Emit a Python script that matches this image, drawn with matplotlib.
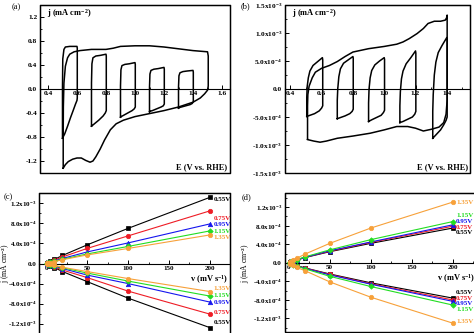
import matplotlib
matplotlib.use("Agg")
import matplotlib.pyplot as plt
from matplotlib.patches import Rectangle
from matplotlib.ticker import MultipleLocator

plt.rcParams.update({
    "font.family": ["Liberation Serif", "DejaVu Serif"],
    "font.weight": "bold",
    "mathtext.fontset": "custom",
    "mathtext.rm": "Liberation Serif:bold",
    "mathtext.it": "Liberation Serif:bold:italic",
    "mathtext.bf": "Liberation Serif:bold",
    "mathtext.default": "rm",
})

# ---------------- Panel (a): CV in mA cm-2 ----------------
a_big_E = [0.505, 0.505, 0.506, 0.51, 0.52, 0.535, 0.55, 0.58, 0.62, 0.70, 0.80, 0.85, 0.90, 1.00, 1.10,
           1.20, 1.30, 1.40, 1.50, 1.505, 1.505, 1.50, 1.48, 1.45, 1.40, 1.30, 1.20, 1.10, 1.00, 0.92,
           0.87, 0.83, 0.79, 0.76, 0.73, 0.71, 0.69, 0.66, 0.63, 0.60, 0.57, 0.54, 0.52, 0.505]
a_big_j = [-1.32, -0.8, -0.3, 0.1, 0.38, 0.52, 0.58, 0.62, 0.64, 0.66, 0.66, 0.68, 0.71, 0.72, 0.72,
           0.70, 0.67, 0.64, 0.62, 0.55, 0.05, -0.02, -0.08, -0.15, -0.22, -0.30, -0.36, -0.41, -0.46, -0.52,
           -0.58, -0.68, -0.85, -1.0, -1.13, -1.20, -1.22, -1.19, -1.15, -1.15, -1.17, -1.21, -1.26, -1.32]

a_loop1_E = [0.50, 0.50, 0.502, 0.51, 0.52, 0.55, 0.60, 0.602, 0.602, 0.60, 0.59, 0.575, 0.555, 0.535, 0.515, 0.50]
a_loop1_j = [-0.82, 0.0, 0.5, 0.66, 0.70, 0.71, 0.71, 0.68, -0.15, -0.19, -0.25, -0.35, -0.48, -0.62, -0.75, -0.82]

a_loop2_E = [0.70, 0.70, 0.703, 0.71, 0.73, 0.76, 0.80, 0.802, 0.802, 0.795, 0.78, 0.75, 0.72, 0.705, 0.70]
a_loop2_j = [-0.62, 0.1, 0.42, 0.52, 0.55, 0.56, 0.58, 0.55, -0.36, -0.40, -0.45, -0.52, -0.58, -0.61, -0.62]

a_loop3_E = [0.90, 0.90, 0.903, 0.91, 0.93, 0.96, 1.00, 1.002, 1.002, 0.995, 0.98, 0.95, 0.92, 0.905, 0.90]
a_loop3_j = [-0.47, 0.05, 0.32, 0.39, 0.41, 0.42, 0.44, 0.41, -0.30, -0.33, -0.36, -0.40, -0.44, -0.46, -0.47]

a_loop4_E = [1.10, 1.10, 1.103, 1.11, 1.13, 1.16, 1.20, 1.202, 1.202, 1.195, 1.18, 1.15, 1.12, 1.105, 1.10]
a_loop4_j = [-0.38, 0.03, 0.25, 0.31, 0.33, 0.34, 0.36, 0.33, -0.25, -0.28, -0.30, -0.33, -0.36, -0.37, -0.38]

a_loop5_E = [1.30, 1.30, 1.303, 1.31, 1.33, 1.36, 1.40, 1.402, 1.402, 1.395, 1.38, 1.35, 1.32, 1.305, 1.30]
a_loop5_j = [-0.32, 0.03, 0.22, 0.27, 0.29, 0.30, 0.31, 0.28, -0.21, -0.24, -0.26, -0.28, -0.30, -0.31, -0.32]

a_xticks = [0.4, 0.6, 0.8, 1.0, 1.2, 1.4, 1.6]
a_xlabels = ["0.4", "0.6", "0.8", "1.0", "1.2", "1.4", "1.6"]
a_yticks = [-1.2, -0.8, -0.4, 0.0, 0.4, 0.8, 1.2]
a_ylabels = ["-1.2", "-0.8", "-0.4", "0.0", "0.4", "0.8", "1.2"]

# ---------------- Panel (b): CV (x1e-4) ----------------
b_big_E = [0.51, 0.51, 0.512, 0.52, 0.54, 0.56, 0.60, 0.65, 0.70, 0.75, 0.80, 0.90, 1.00, 1.08, 1.12,
           1.16, 1.21, 1.25, 1.28, 1.32, 1.36, 1.39, 1.40, 1.402, 1.402, 1.395, 1.38, 1.35, 1.30, 1.25,
           1.20, 1.15, 1.08, 1.00, 0.91, 0.80, 0.70, 0.63, 0.59, 0.55, 0.52, 0.51]
b_big_j = [-9.0, -3.0, -1.0, 0.5, 2.0, 3.0, 3.7, 4.2, 4.9, 5.8, 6.6, 7.2, 7.6, 8.0, 8.4,
           9.0, 9.9, 10.8, 11.7, 12.1, 12.1, 12.3, 12.8, 13.2, -2.0, -4.5, -6.0, -6.8, -7.2, -7.5,
           -7.0, -6.7, -6.7, -7.3, -7.9, -8.4, -8.8, -9.3, -9.5, -9.3, -9.1, -9.0]

b_loop1_E = [0.505, 0.505, 0.508, 0.515, 0.525, 0.545, 0.575, 0.605, 0.607, 0.607, 0.60, 0.585, 0.555, 0.525, 0.505]
b_loop1_j = [-4.9, -1.5, 0.5, 2.0, 3.2, 4.2, 4.9, 5.6, 5.2, -3.0, -3.4, -3.9, -4.4, -4.7, -4.9]

b_loop2_E = [0.70, 0.70, 0.703, 0.71, 0.72, 0.74, 0.77, 0.80, 0.802, 0.802, 0.795, 0.78, 0.75, 0.72, 0.70]
b_loop2_j = [-5.3, -2.0, 0.0, 2.2, 3.6, 4.6, 5.2, 5.8, 5.5, -3.6, -4.0, -4.4, -4.8, -5.1, -5.3]

b_loop3_E = [0.90, 0.90, 0.903, 0.91, 0.92, 0.94, 0.97, 1.00, 1.002, 1.002, 0.995, 0.98, 0.95, 0.92, 0.90]
b_loop3_j = [-5.8, -2.5, 0.0, 2.0, 3.3, 4.3, 5.0, 5.6, 5.3, -3.8, -4.2, -4.7, -5.1, -5.5, -5.8]

b_loop4_E = [1.10, 1.10, 1.103, 1.11, 1.12, 1.14, 1.17, 1.20, 1.202, 1.202, 1.195, 1.18, 1.15, 1.12, 1.10]
b_loop4_j = [-6.0, -3.0, -0.5, 1.8, 3.2, 4.5, 5.6, 6.8, 6.4, -4.0, -4.5, -5.0, -5.4, -5.8, -6.0]

b_loop5_E = [1.31, 1.31, 1.313, 1.32, 1.33, 1.345, 1.37, 1.40, 1.402, 1.402, 1.395, 1.38, 1.36, 1.33, 1.31]
b_loop5_j = [-8.8, -4.0, -1.0, 2.5, 4.8, 6.5, 7.8, 9.2, 8.8, -5.0, -5.6, -6.4, -7.3, -8.2, -8.8]

b_xticks = [0.4, 0.6, 0.8, 1.0, 1.2, 1.4]
b_xlabels = ["0.4", "0.6", "0.8", "1.0", "1.2", "1.4"]
b_yticks = [-1.5e-3, -1.0e-3, -5.0e-4, 0.0, 5.0e-4, 1.0e-3, 1.5e-3]
b_ylabels = ["-1.5x10$^{-3}$", "-1.0x10$^{-3}$", "-5.0x10$^{-4}$", "0.0",
             "5.0x10$^{-4}$", "1.0x10$^{-3}$", "1.5x10$^{-3}$"]

# ---------------- Panels (c), (d): j vs scan rate (x1e-4) ----------------
scan_rate = [1, 2, 5, 10, 20, 50, 100, 200]
potentials = ["0.55V", "0.75V", "0.95V", "1.15V", "1.35V"]
colors = ["#000000", "#ee1c25", "#1515ee", "#22dd22", "#f7a13a"]
markers = ["s", "o", "^", "D", "o"]

c_pos = {
    "0.55V": [0.08, 0.15, 0.4, 0.8, 1.6, 3.7, 7.0, 13.2],
    "0.75V": [0.06, 0.12, 0.32, 0.65, 1.3, 3.0, 5.5, 10.5],
    "0.95V": [0.05, 0.10, 0.25, 0.5, 1.0, 2.3, 4.1, 7.9],
    "1.15V": [0.04, 0.08, 0.21, 0.42, 0.85, 1.9, 3.4, 6.5],
    "1.35V": [0.04, 0.07, 0.18, 0.36, 0.75, 1.7, 3.0, 5.7],
}
c_neg = {
    "0.55V": [-0.08, -0.15, -0.4, -0.8, -1.6, -3.6, -6.9, -12.8],
    "0.75V": [-0.06, -0.12, -0.32, -0.65, -1.3, -2.8, -5.5, -10.1],
    "0.95V": [-0.05, -0.10, -0.25, -0.5, -1.0, -2.3, -4.0, -7.7],
    "1.15V": [-0.04, -0.08, -0.21, -0.42, -0.85, -1.9, -3.5, -6.5],
    "1.35V": [-0.04, -0.07, -0.18, -0.36, -0.75, -1.6, -3.0, -5.6],
}
c_label_pos_y = {"0.55V": 12.7, "0.75V": 8.9, "0.95V": 7.7, "1.15V": 6.3, "1.35V": 5.2}
c_label_neg_y = {"0.55V": -11.7, "0.75V": -9.7, "0.95V": -7.7, "1.15V": -6.3, "1.35V": -5.0}

d_pos = {
    "0.55V": [0.07, 0.13, 0.33, 0.62, 1.15, 2.4, 4.2, 7.5],
    "0.75V": [0.07, 0.14, 0.34, 0.63, 1.2, 2.5, 4.4, 7.9],
    "0.95V": [0.07, 0.14, 0.35, 0.65, 1.2, 2.6, 4.5, 8.2],
    "1.15V": [0.08, 0.15, 0.37, 0.7, 1.3, 2.8, 5.0, 8.9],
    "1.35V": [0.12, 0.25, 0.55, 1.0, 1.9, 4.2, 7.5, 13.1],
}
d_neg = {
    "0.55V": [-0.07, -0.13, -0.33, -0.62, -1.1, -2.4, -4.3, -7.6],
    "0.75V": [-0.07, -0.14, -0.34, -0.63, -1.15, -2.5, -4.5, -8.0],
    "0.95V": [-0.07, -0.14, -0.35, -0.65, -1.2, -2.6, -4.6, -8.3],
    "1.15V": [-0.08, -0.15, -0.37, -0.7, -1.3, -2.9, -5.1, -9.1],
    "1.35V": [-0.12, -0.25, -0.55, -1.0, -1.7, -4.1, -7.4, -13.0],
}
d_label_pos_y = {"0.55V": 6.55, "0.75V": 7.7, "0.95V": 8.85, "1.15V": 10.3, "1.35V": 13.1}
d_label_neg_y = {"0.55V": -6.5, "0.75V": -7.6, "0.95V": -8.7, "1.15V": -10.0, "1.35V": -12.6}

cd_xticks = [0, 50, 100, 150, 200]
cd_xlabels = ["0", "50", "100", "150", "200"]
cd_yticks = [-1.2e-3, -8e-4, -4e-4, 0.0, 4e-4, 8e-4, 1.2e-3]
cd_ylabels = ["-1.2x10$^{-3}$", "-8.0x10$^{-4}$", "-4.0x10$^{-4}$", "0.0",
              "4.0x10$^{-4}$", "8.0x10$^{-4}$", "1.2x10$^{-3}$"]

SCALE = 1e-4
TICK_FS = 5.3
TXT_FS = 6

fig = plt.figure(figsize=(4.74, 3.33), dpi=100)
W, H = 474, 333


def add_ax(x0, y0, x1, y1):
    return fig.add_axes([x0 / W, 1 - y1 / H, (x1 - x0) / W, (y1 - y0) / H])


def style(ax, xlim, ylim, xt, xl, yt, yl, xminor, yminor, tick_fs=TICK_FS):
    ax.set_xlim(*xlim)
    ax.set_ylim(*ylim)
    ax.spines["bottom"].set_position(("data", 0))
    for s in ax.spines.values():
        s.set_linewidth(0.8)
    ax.add_patch(Rectangle((0, 0), 1, 1, transform=ax.transAxes, fill=False,
                           lw=1.0, ec="black", clip_on=False, zorder=5))
    ax.set_xticks(xt, xl)
    ax.set_yticks(yt, yl)
    ax.xaxis.set_minor_locator(MultipleLocator(xminor))
    ax.yaxis.set_minor_locator(MultipleLocator(yminor))
    ax.tick_params(which="major", direction="in", length=3, width=0.7,
                   labelsize=tick_fs, pad=2)
    ax.tick_params(which="minor", direction="in", length=1.6, width=0.6)
    ax.tick_params(axis="x", which="major", pad=1.5)
    for lab in ax.get_xticklabels() + ax.get_yticklabels():
        lab.set_fontweight("bold")


# Panel (a)
axa = add_ax(40, 5, 230, 173)
style(axa, (0.345, 1.655), (-1.4, 1.4), a_xticks, a_xlabels, a_yticks, a_ylabels, 0.1, 0.2)
for E, j in [(a_big_E, a_big_j), (a_loop1_E, a_loop1_j), (a_loop2_E, a_loop2_j),
             (a_loop3_E, a_loop3_j), (a_loop4_E, a_loop4_j), (a_loop5_E, a_loop5_j)]:
    axa.plot(E, j, color="black", lw=1.1, solid_joinstyle="round")
axa.text(0.035, 0.95, "j (mA cm$^{-2}$)", transform=axa.transAxes, fontsize=TXT_FS,
         ha="left", va="center")
axa.text(0.985, 0.035, "E (V vs. RHE)", transform=axa.transAxes, fontsize=TXT_FS,
         ha="right", va="center")
fig.text(16 / W, 1 - 7 / H, "(a)", fontsize=6, fontweight="normal", ha="center", va="center")

# Panel (b)
axb = add_ax(285, 5, 470, 173)
style(axb, (0.366, 1.548), (-1.5e-3, 1.5e-3), b_xticks, b_xlabels, b_yticks, b_ylabels, 0.1, 2.5e-4)
for E, j in [(b_big_E, b_big_j), (b_loop1_E, b_loop1_j), (b_loop2_E, b_loop2_j),
             (b_loop3_E, b_loop3_j), (b_loop4_E, b_loop4_j), (b_loop5_E, b_loop5_j)]:
    axb.plot(E, [v * SCALE for v in j], color="black", lw=1.1, solid_joinstyle="round")
axb.text(0.038, 0.95, "j (mA cm$^{-2}$)", transform=axb.transAxes, fontsize=TXT_FS,
         ha="left", va="center")
axb.text(0.99, 0.035, "E (V vs. RHE)", transform=axb.transAxes, fontsize=TXT_FS,
         ha="right", va="center")
fig.text(245 / W, 1 - 6 / H, "(b)", fontsize=6, fontweight="normal", ha="center", va="center")


def rate_panel(ax, pos, neg, lab_pos, lab_neg, xlim, ylim, ylab_x, xlab_x):
    style(ax, xlim, ylim, cd_xticks, cd_xlabels, cd_yticks, cd_ylabels, 25, 2e-4, tick_fs=5.0)
    for p, c, m in zip(potentials, colors, markers):
        for series in (pos[p], neg[p]):
            ax.plot(scan_rate, [v * SCALE for v in series], color=c, lw=0.8,
                    marker=m, ms=3.2 if m != "D" else 2.8, mfc=c, mec=c, mew=0.5,
                    clip_on=False, zorder=3)
        ax.text(204, lab_pos[p] * SCALE, p, color=c, fontsize=5, ha="left", va="center")
        ax.text(204, lab_neg[p] * SCALE, p, color=c, fontsize=5, ha="left", va="center")
    ax.set_ylabel("j (mA cm$^{-2}$)", fontsize=5.5)
    ax.yaxis.set_label_coords(ylab_x, 0.5)
    ax.text(xlab_x, 0.385, "v (mV s$^{-1}$)", transform=ax.transAxes, fontsize=TXT_FS,
            ha="right", va="center")


axc = add_ax(39.3, 193.3, 230, 333.7)
rate_panel(axc, c_pos, c_neg, c_label_pos_y, c_label_neg_y, (-8.2, 224.4), (-1.4e-3, 1.4e-3),
           -0.145, 0.99)
fig.text(8 / W, 1 - 197 / H, "(c)", fontsize=6, fontweight="normal", ha="center", va="center")

axd = add_ax(284.7, 193.3, 476, 332.4)
rate_panel(axd, d_pos, d_neg, d_label_pos_y, d_label_neg_y, (-4.9, 228.4), (-1.5e-3, 1.5e-3),
           -0.17, 0.995)
fig.text(246 / W, 1 - 197 / H, "(d)", fontsize=6, fontweight="normal", ha="center", va="center")

fig.savefig("out.png", dpi=100)
